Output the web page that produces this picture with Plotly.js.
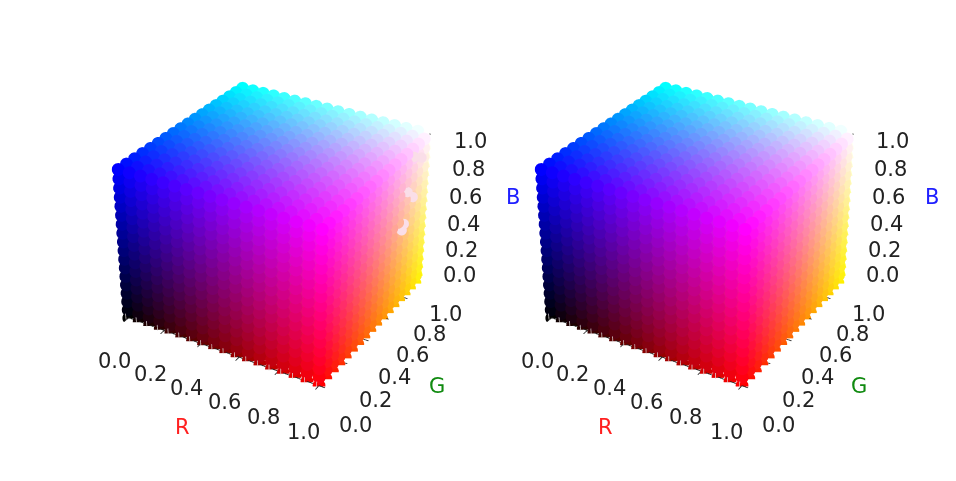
<!DOCTYPE html>
<html><head><meta charset="utf-8">
<script src="https://cdn.plot.ly/plotly-3.0.1.min.js"></script>
<style>html,body{margin:0;padding:0;background:#fff;overflow:hidden;width:956px;height:481px;position:relative}#p{position:absolute;left:0;top:-297px;width:956px;height:1047px;filter:blur(0.45px)}</style>
</head><body><div id="p"></div>
<script>
const levels=[0,15,30,45,60,75,90,105,120,135,150,165,180,195,210,225,240,255];
const tickVals=[0,0.2,0.4,0.6,0.8,1];
const tickText=['0.0','0.2','0.4','0.6','0.8','1.0'];
const axisNames=['R','G','B'];
const axisColors=['#ff2020','#108a10','#2020ff'];
const patchG=[0.80,0.88,0.75,0.81,0.73,0.71];
const patchB=[0.97,0.92,0.77,0.70,0.57,0.54];
const xs=[],ys=[],zs=[],cs=[];
for(const r of levels)for(const g of levels)for(const b of levels){
  xs.push(r/255);ys.push(g/255);zs.push(b/255);cs.push(`rgb(${r},${g},${b})`);
}
function ann(x,y,z,text,dx,dy,color,extra){
  return Object.assign({x,y,z,text,showarrow:false,xshift:dx,yshift:-dy,xanchor:'center',yanchor:'middle',
    font:{family:'DejaVu Sans',size:21,color}},extra||{});
}
function annots(isLeft){
  const a=[];
  tickVals.forEach((v,i)=>{
    a.push(ann(v,0,0,tickText[i],-14-v,43+3*v,'#222'));
    a.push(ann(1,v,0,tickText[i],37-11*v,39-2*v,'#222'));
    a.push(ann(1,1,v,tickText[i],40+v,-2+9*v,'#222'));
  });
  a.push(ann(.5,0,0,axisNames[0],-37,77,axisColors[0]));
  a.push(ann(1,.5,0,axisNames[1],64,58,axisColors[1]));
  a.push(ann(1,1,.5,axisNames[2],isLeft?80:85,-11,axisColors[2],isLeft?{xanchor:'left',width:8,height:24,align:'left'}:{}));
  return a;
}
const lo=-0.3,hi=1.3,k=hi-lo;
function ax(){return {range:[lo,hi],autorange:false,visible:false,showticklabels:false,ticks:'',
  showgrid:false,zeroline:false,showbackground:false,showspikes:false,showline:false,title:{text:''}};}
const d=3.6*k,E=30*Math.PI/180;
function scene(dom,isLeft){return {domain:{x:dom,y:[0,1]},aspectmode:'manual',aspectratio:{x:k,y:k,z:0.767*k},
  camera:{projection:{type:'perspective'},center:{x:0,y:0,z:0},up:{x:0,y:0,z:1},
    eye:{x:d*Math.cos(E)*0.512,y:-d*Math.cos(E)*0.859,z:d*Math.sin(E)}},
  xaxis:ax(),yaxis:ax(),zaxis:ax(),annotations:annots(isLeft)};}
function dots(s){return {type:'scatter3d',mode:'markers',scene:s,x:xs,y:ys,z:zs,hoverinfo:'skip',
  marker:{size:7.5,color:cs,opacity:1,line:{width:0}}};}
function mask(s){return {type:'mesh3d',scene:s,hoverinfo:'skip',color:'#ffffff',opacity:1,flatshading:true,
  lighting:{ambient:1,diffuse:0,specular:0,fresnel:0,roughness:1},showscale:false,
  x:[0,1.3,1.3,0,1.002,1.3,1.3,1.002],y:[-0.3,-0.3,1,1,1.002,0.82,0.82,1.002],z:[-0.004,-0.004,-0.004,-0.004,-0.004,-0.004,1.2,1.2],
  i:[0,0,4,4],j:[1,2,5,6],k:[2,3,6,7]};}
function axes(s){
  const x=[0,1,null],y=[0,0,null],z=[0,0,null];
  x.push(1,1,null);y.push(0,1,null);z.push(0,0,null);
  x.push(1,1,null);y.push(1,1,null);z.push(0,1,null);
  for(const v of tickVals){
    x.push(v,v,null);y.push(0,-0.03,null);z.push(0,0,null);
    x.push(1,1.03,null);y.push(v,v,null);z.push(0,0,null);
    x.push(1,1.03,null);y.push(1,1,null);z.push(v,v,null);
  }
  return {type:'scatter3d',mode:'lines',scene:s,x,y,z,hoverinfo:'skip',connectgaps:false,line:{color:'#222',width:1.6}};
}
function paleTicks(s){
  const x=[],y=[],z=[];
  for(const l of levels){x.push(l/255,l/255,null);y.push(-0.02,-0.02,null);z.push(0.004,0.045,null);}
  return {type:'scatter3d',mode:'lines',scene:s,x,y,z,hoverinfo:'skip',connectgaps:false,line:{color:'#e0dada',width:1.4}};
}
const patch={type:'scatter3d',mode:'markers',scene:'scene',hoverinfo:'skip',
  x:patchG.map(()=>1.02),y:patchG,z:patchB,marker:{size:6,color:'rgb(250,222,232)',opacity:1,line:{width:0}}};
Plotly.newPlot('p',[dots('scene'),mask('scene'),axes('scene'),paleTicks('scene'),patch,dots('scene2'),mask('scene2'),axes('scene2'),paleTicks('scene2')],
  {width:956,height:1047,margin:{l:0,r:0,t:0,b:0},showlegend:false,paper_bgcolor:'#fff',
  scene:scene([0.0807,0.5007],true),scene2:scene([0.5226,0.9426],false)},{displayModeBar:false});
</script></body></html>
